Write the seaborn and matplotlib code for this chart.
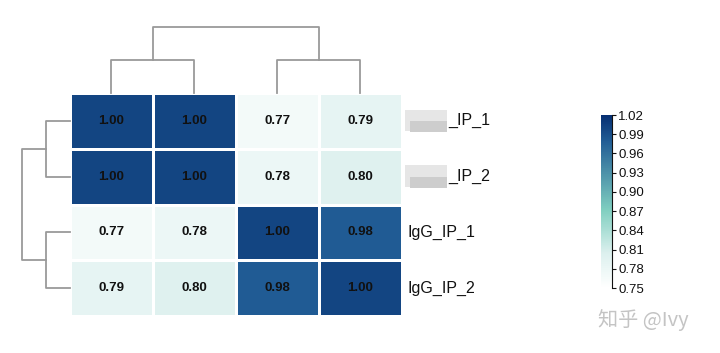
import numpy as np
import pandas as pd
import seaborn as sns
import matplotlib.pyplot as plt
from matplotlib.colors import LinearSegmentedColormap
from matplotlib.patches import Rectangle

# correlation matrix of samples
samples = ["_IP_1", "_IP_2", "IgG_IP_1", "IgG_IP_2"]
row1 = [1.00, 1.00, 0.77, 0.79]
row2 = [1.00, 1.00, 0.78, 0.80]
row3 = [0.77, 0.78, 1.00, 0.98]
row4 = [0.79, 0.80, 0.98, 1.00]
cbar_ticks = [0.75, 0.78, 0.81, 0.84, 0.87, 0.90, 0.93, 0.96, 0.99, 1.02]

df = pd.DataFrame([row1, row2, row3, row4], index=samples, columns=samples)


def average_linkage(dist):
    # tiny agglomerative clustering, returns nested tuples
    groups = [(i, [i]) for i in range(len(dist))]
    while len(groups) > 1:
        best = None
        for a in range(len(groups)):
            for b in range(a + 1, len(groups)):
                d = np.mean([dist[i][j] for i in groups[a][1] for j in groups[b][1]])
                if best is None or d < best[0]:
                    best = (d, a, b)
        _, a, b = best
        merged = ((groups[a][0], groups[b][0]), groups[a][1] + groups[b][1])
        groups = [g for k, g in enumerate(groups) if k not in (a, b)]
        groups.insert(a, merged)
    return groups[0][0]


def draw_tree(ax, node, orient):
    if isinstance(node, int):
        return node + 0.5, 0
    lx, lh = draw_tree(ax, node[0], orient)
    rx, rh = draw_tree(ax, node[1], orient)
    h = max(lh, rh) + 1
    xs = [lx, lx, rx, rx]
    hs = [lh, h, h, rh]
    if orient == "top":
        ax.plot(xs, hs, color="#9a9a9a", lw=1.3, clip_on=False)
    else:
        ax.plot(hs, xs, color="#9a9a9a", lw=1.3, clip_on=False)
    return (lx + rx) / 2, h


tree = average_linkage(1 - df.values)

cmap = LinearSegmentedColormap.from_list(
    "wtb", [(0, "#ffffff"), (0.2, "#dcf0ee"), (0.45, "#80cfc0"),
            (0.85, "#215d95"), (1, "#062f72")])

fig = plt.figure(figsize=(7.2, 3.53), dpi=100)
ax = fig.add_axes([0.0972, 0.1048, 0.4611, 0.6317])
cax = fig.add_axes([0.8347, 0.1841, 0.0153, 0.4901])
ax_top = fig.add_axes([0.0972, 0.7365, 0.4611, 0.187])
ax_left = fig.add_axes([0.0306, 0.1048, 0.0667, 0.6317])

sns.heatmap(df, ax=ax, cmap=cmap, vmin=0.75, vmax=1.02, annot=True, fmt=".2f",
            linewidths=1, linecolor="white", cbar_ax=cax,
            xticklabels=False, yticklabels=False,
            annot_kws=dict(color="#111111", fontsize=9.5, fontweight="bold",
                           family="Liberation Sans"))
ax.set_xlabel("")
ax.set_ylabel("")
ax.tick_params(left=False, bottom=False)

# row labels on the right
for i, name in enumerate(samples):
    off = 46 if i < 2 else 6
    ax.annotate(name, xy=(4, i + 0.5), xytext=(off, 0), textcoords="offset pixels",
                ha="left", va="center", fontsize=11.5, family="Liberation Sans",
                color="#111111", annotation_clip=False)
    if i < 2:
        # blurred part of the label
        ax.add_patch(Rectangle((4.04, i + 0.3), 0.5, 0.38, color="#e6e6e6",
                               clip_on=False, lw=0))
        ax.add_patch(Rectangle((4.10, i + 0.5), 0.44, 0.2, color="#cdcdcd",
                               clip_on=False, lw=0))

# colorbar
cbar = ax.collections[0].colorbar
cbar.outline.set_visible(False)
cbar.set_ticks(cbar_ticks)
cbar.set_ticklabels([f"{t:.2f}" for t in cbar_ticks])
cax.tick_params(labelsize=9.5, length=3, width=0.8, pad=1.5, colors="#111111")
for t in cax.get_yticklabels():
    t.set_family("Liberation Sans")
cax.plot([1, 1], [0.75, 1.02], color="#111111", lw=0.8, clip_on=False,
         transform=cax.get_yaxis_transform())

# dendrograms
draw_tree(ax_top, tree, "top")
ax_top.set_xlim(0, 4)
ax_top.set_ylim(0, 2)
ax_top.axis("off")

draw_tree(ax_left, tree, "left")
ax_left.set_ylim(4, 0)
ax_left.set_xlim(2, 0)
ax_left.axis("off")

fig.text(0.83, 0.093, "知乎 @Ivy", fontsize=14.5, color="#c4c4c4", va="center",
         family=["Noto Sans CJK SC", "DejaVu Sans"])

fig.savefig("out.png", dpi=100)
